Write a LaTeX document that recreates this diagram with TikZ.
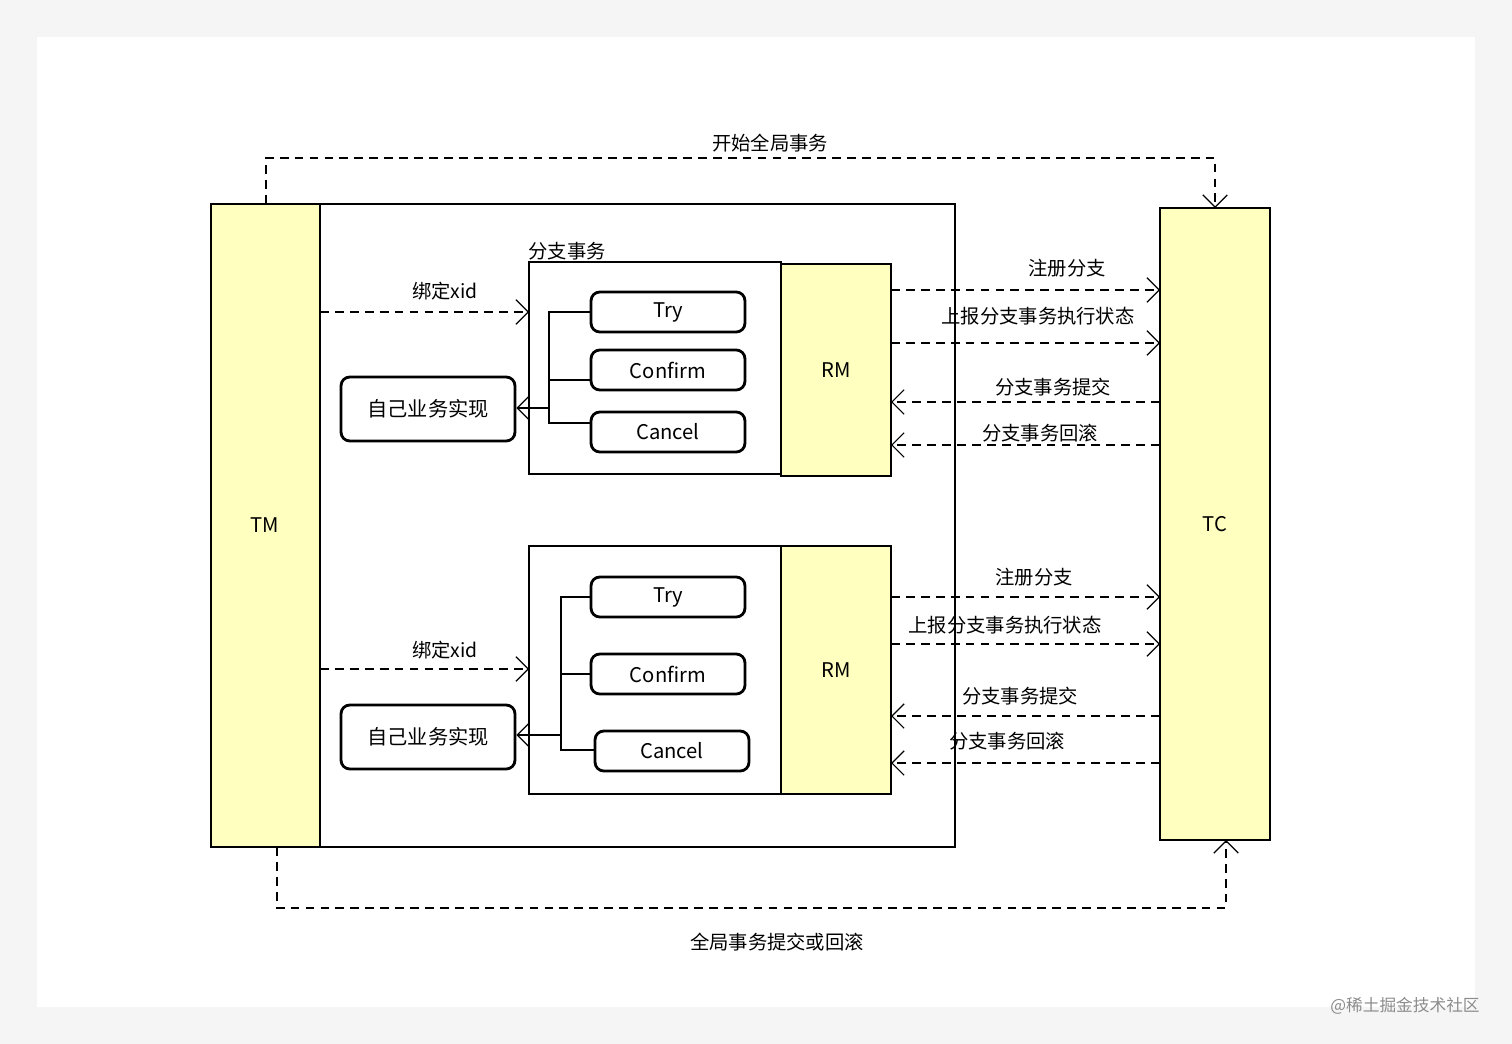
\documentclass[tikz,border=0pt]{standalone}
\usepackage{fontspec}
\setmainfont{Noto Sans CJK SC}[BoldFont={Noto Sans CJK SC Medium}]
\usetikzlibrary{arrows.meta}
\definecolor{yel}{HTML}{FFFFC0}
\begin{document}
\begin{tikzpicture}[x=0.02cm,y=-0.02cm,
  dashed/.style={dash pattern=on 5pt off 3.5pt},
  box/.style={draw,line width=0.8pt},
  yb/.style={draw,fill=yel,line width=0.8pt},
  rb/.style={draw,rounded corners=5pt,line width=1.6pt,minimum height=0.8cm,font=\fontsize{11.5}{13}\selectfont},
  da/.style={dashed,line width=0.7pt,-{Straight Barb[length=7pt,width=14pt]}},
  ar/.style={line width=0.7pt,-{Straight Barb[length=7pt,width=14pt]}},
  lb/.style={font=\fontsize{11}{12}\selectfont,inner sep=1pt}]
\useasboundingbox (0,0) rectangle (1512,1044);
\fill[black!4] (0,0) rectangle (1512,1044);
\fill[white] (37,37) rectangle (1475,1007);
% main frames
\draw[box] (320,204) rectangle (955,847);
\draw[yb] (211,204) rectangle (320,847);
\node[font=\fontsize{11.5}{13}\selectfont] (TM) at (265,525) {TM};
\draw[yb] (1160,208) rectangle (1270,840);
\node[font=\fontsize{11.5}{13}\selectfont] (TC) at (1215,524) {TC};
\coordinate (tmr1) at (320,312); \coordinate (tmr2) at (320,669);
% top branch
\draw[box] (529,262) rectangle (781,474);
\draw[yb] (781,264) rectangle (891,476);
\node[font=\fontsize{11.5}{13}\selectfont] (rm1) at (836,370) {RM};
\node[lb] at (567,251) {分支事务};
\node[rb,minimum width=3.08cm] (try1) at (668,312) {Try};
\node[rb,minimum width=3.08cm] (con1) at (668,370) {Confirm};
\node[rb,minimum width=3.08cm] (can1) at (668,432) {Cancel};
\node[rb,minimum width=3.48cm,minimum height=1.28cm] (own1) at (428,409) {自己业务实现};
\draw[line width=0.7pt] (try1.west) -| (549,423) -- (can1.west|-0,423);
\draw[line width=0.7pt] (549,380) -- (con1.west|-0,380);
\draw[ar] (549,408) -- (own1.east|-0,408);
\coordinate (b1) at (529,312);
\draw[da] (tmr1) -- (b1);
\node[lb] at (445,291) {绑定xid};
% bottom branch
\draw[box] (529,546) rectangle (781,794);
\draw[yb] (781,546) rectangle (891,794);
\node[font=\fontsize{11.5}{13}\selectfont] (rm2) at (836,670) {RM};
\node[rb,minimum width=3.08cm] (try2) at (668,597) {Try};
\node[rb,minimum width=3.08cm] (con2) at (668,674) {Confirm};
\node[rb,minimum width=3.08cm] (can2) at (672,751) {Cancel};
\node[rb,minimum width=3.48cm,minimum height=1.28cm] (own2) at (428,737) {自己业务实现};
\draw[line width=0.7pt] (try2.west) -| (561,750) -- (can2.west|-0,750);
\draw[line width=0.7pt] (561,674) -- (con2.west);
\draw[ar] (561,735) -- (own2.east|-0,735);
\coordinate (b2) at (529,669);
\draw[da] (tmr2) -- (b2);
\node[lb] at (445,650) {绑定xid};
% RM <-> TC top
\draw[da] (891,290) -- (1160,290);
\node[lb] at (1067,268) {注册分支};
\draw[da] (891,343) -- (1160,343);
\node[lb] at (1038,316) {上报分支事务执行状态};
\draw[da] (1160,402) -- (891,402);
\node[lb] at (1053,387) {分支事务提交};
\draw[da] (1160,445) -- (891,445);
\node[lb] at (1040,433) {分支事务回滚};
% bottom
\draw[da] (891,597) -- (1160,597);
\node[lb] at (1034,577) {注册分支};
\draw[da] (891,644) -- (1160,644);
\node[lb] at (1005,625) {上报分支事务执行状态};
\draw[da] (1160,716) -- (891,716);
\node[lb] at (1020,696) {分支事务提交};
\draw[da] (1160,763) -- (891,763);
\node[lb] at (1007,741) {分支事务回滚};
% global
\draw[da] (266,204) -- (266,158) -- (1215,158) -- (1215,208);
\node[lb] at (770,143) {开始全局事务};
\draw[da] (277,847) -- (277,908) -- (1226,908) -- (1226,840);
\node[lb] at (777,942) {全局事务提交或回滚};
\node[font=\fontsize{9.5}{11}\selectfont,text=black!45] at (1405,1006) {@稀土掘金技术社区};
\end{tikzpicture}
\end{document}
